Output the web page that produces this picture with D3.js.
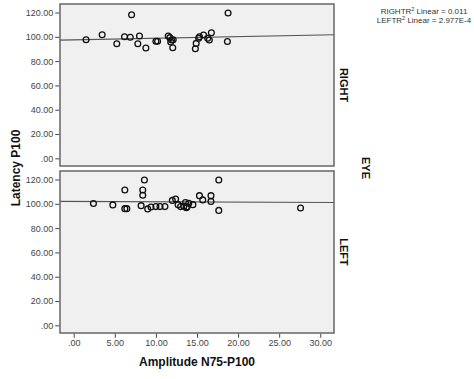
<!DOCTYPE html>
<html><head><meta charset="utf-8">
<script src="https://cdn.jsdelivr.net/npm/d3@7"></script>
<style>body{margin:0;background:#fff;}svg{display:block;}</style>
</head><body>
<script>
// Data
const rightAmp = [1.5,3.46,5.24,6.18,6.88,7.04,7.8,8.0,8.78,10.0,10.2,11.5,11.7,11.9,12.1,12.05,11.8,14.9,14.8,15.2,15.3,15.8,16.3,16.5,16.75,18.78,18.7];
const rightLat = [97.6,101.7,94.3,100,99.6,118.2,94.3,100.7,90.8,96.4,96.3,100.7,99.3,97.4,97.6,91,95.8,94.6,90.2,98.8,100.1,101.5,98.8,97.4,103.4,119.6,96.1];
const leftAmp = [2.4,4.76,6.22,6.22,6.46,8.6,8.4,8.4,8.2,9.0,9.4,10.0,10.5,11.1,12.0,12.4,12.7,13.0,13.4,13.6,13.7,14.0,13.8,14.5,15.3,15.7,16.7,16.7,17.65,17.65,27.6];
const leftLat = [100.2,99.1,111.4,96,96,119.6,111.4,107,98.5,95.8,97.4,97.7,97.7,97.7,102.8,104,99.3,97.7,98,101,96.8,100.5,97.5,99.3,106.7,103.2,106.7,102,119.6,94.6,96.6];
const panels = ["RIGHT","LEFT"];
const xTicks = [0,5,10,15,20,25,30];
const yTicks = [0,20,40,60,80,100,120];
const legendLines = [["RIGHT","0.011"],["LEFT","2.977E-4"]];

const W=474,H=379;
const svg=d3.select("body").append("svg").attr("width",W).attr("height",H);
const x0=60,x1=334, panelH=162, tops=[4,171];
const x=d3.scaleLinear().domain([-1.67,31.67]).range([x0,x1]);
const fmt=d=> d===0?".00":d.toFixed(2);
const datasets=[[rightAmp,rightLat],[leftAmp,leftLat]];
const FONT="Arial, Liberation Sans, sans-serif";

function fit(xs,ys){
  const mx=d3.mean(xs),my=d3.mean(ys);
  let sxy=0,sxx=0;
  xs.forEach((v,i)=>{sxy+=(v-mx)*(ys[i]-my);sxx+=(v-mx)*(v-mx);});
  const b=sxy/sxx; return {a:my-b*mx,b};
}

panels.forEach((p,k)=>{
  const t=tops[k];
  const y=d3.scaleLinear().domain([-6.3,127]).range([t+panelH,t]);
  const g=svg.append("g");
  g.append("rect").attr("x",x0).attr("y",t).attr("width",x1-x0).attr("height",panelH)
    .attr("fill","#f0f0f0").attr("stroke","none");
  const [xs,ys]=datasets[k];
  const f=fit(xs,ys);
  const dom=x.domain();
  g.append("line").attr("x1",x(dom[0])).attr("x2",x(dom[1]))
    .attr("y1",y(f.a+f.b*dom[0])).attr("y2",y(f.a+f.b*dom[1]))
    .attr("stroke","#555").attr("stroke-width",1.2);
  g.selectAll("circle").data(xs).join("circle")
    .attr("cx",(d)=>x(d)).attr("cy",(d,i)=>y(ys[i])).attr("r",2.9)
    .attr("fill","none").attr("stroke","#111").attr("stroke-width",1.3);
  g.append("rect").attr("x",x0).attr("y",t).attr("width",x1-x0).attr("height",panelH)
    .attr("fill","none").attr("stroke","#666").attr("stroke-width",1.5);
  const ya=svg.append("g").attr("transform",`translate(${x0-0.75},0)`)
    .call(d3.axisLeft(y).tickValues(yTicks).tickFormat(fmt).tickSize(4).tickPadding(2));
  ya.select(".domain").remove();
  ya.selectAll("line").attr("stroke","#444");
  ya.selectAll("text").attr("fill","#444").style("font-family",FONT).style("font-size","9px");
  svg.append("text").attr("transform",`translate(${x1+10},${t+panelH/2}) rotate(90)`)
    .attr("text-anchor","middle").attr("dy","0.35em").style("font-family",FONT)
    .style("font-weight","bold").style("font-size","11px").attr("fill","#111").text(p);
});

const xa=svg.append("g").attr("transform",`translate(0,${tops[1]+panelH+0.75})`)
  .call(d3.axisBottom(x).tickValues(xTicks).tickFormat(fmt).tickSize(4).tickPadding(2));
xa.select(".domain").remove();
xa.selectAll("line").attr("stroke","#444");
xa.selectAll("text").attr("fill","#444").style("font-family",FONT).style("font-size","9px");

svg.append("text").attr("x",(x0+x1)/2).attr("y",366).attr("text-anchor","middle")
  .style("font-family",FONT).style("font-weight","bold").style("font-size","12px")
  .attr("fill","#111").text("Amplitude N75-P100");
svg.append("text").attr("transform",`translate(16,168) rotate(-90)`).attr("text-anchor","middle")
  .attr("dy","0.35em").style("font-family",FONT).style("font-weight","bold").style("font-size","12px")
  .attr("fill","#111").text("Latency  P100");
svg.append("text").attr("transform",`translate(366,168) rotate(90)`).attr("text-anchor","middle")
  .attr("dy","0.35em").style("font-family",FONT).style("font-weight","bold").style("font-size","11px")
  .attr("fill","#111").text("EYE");

legendLines.forEach((l,i)=>{
  const t=svg.append("text").attr("x",424).attr("y",14+i*9).attr("text-anchor","middle")
    .style("font-family",FONT).style("font-size","8px").attr("fill","#333");
  t.append("tspan").text(l[0]+"R");
  t.append("tspan").attr("dy",-3).style("font-size","5.5px").text("2");
  t.append("tspan").attr("dy",3).text(" Linear = "+l[1]);
});
</script>
</body></html>
